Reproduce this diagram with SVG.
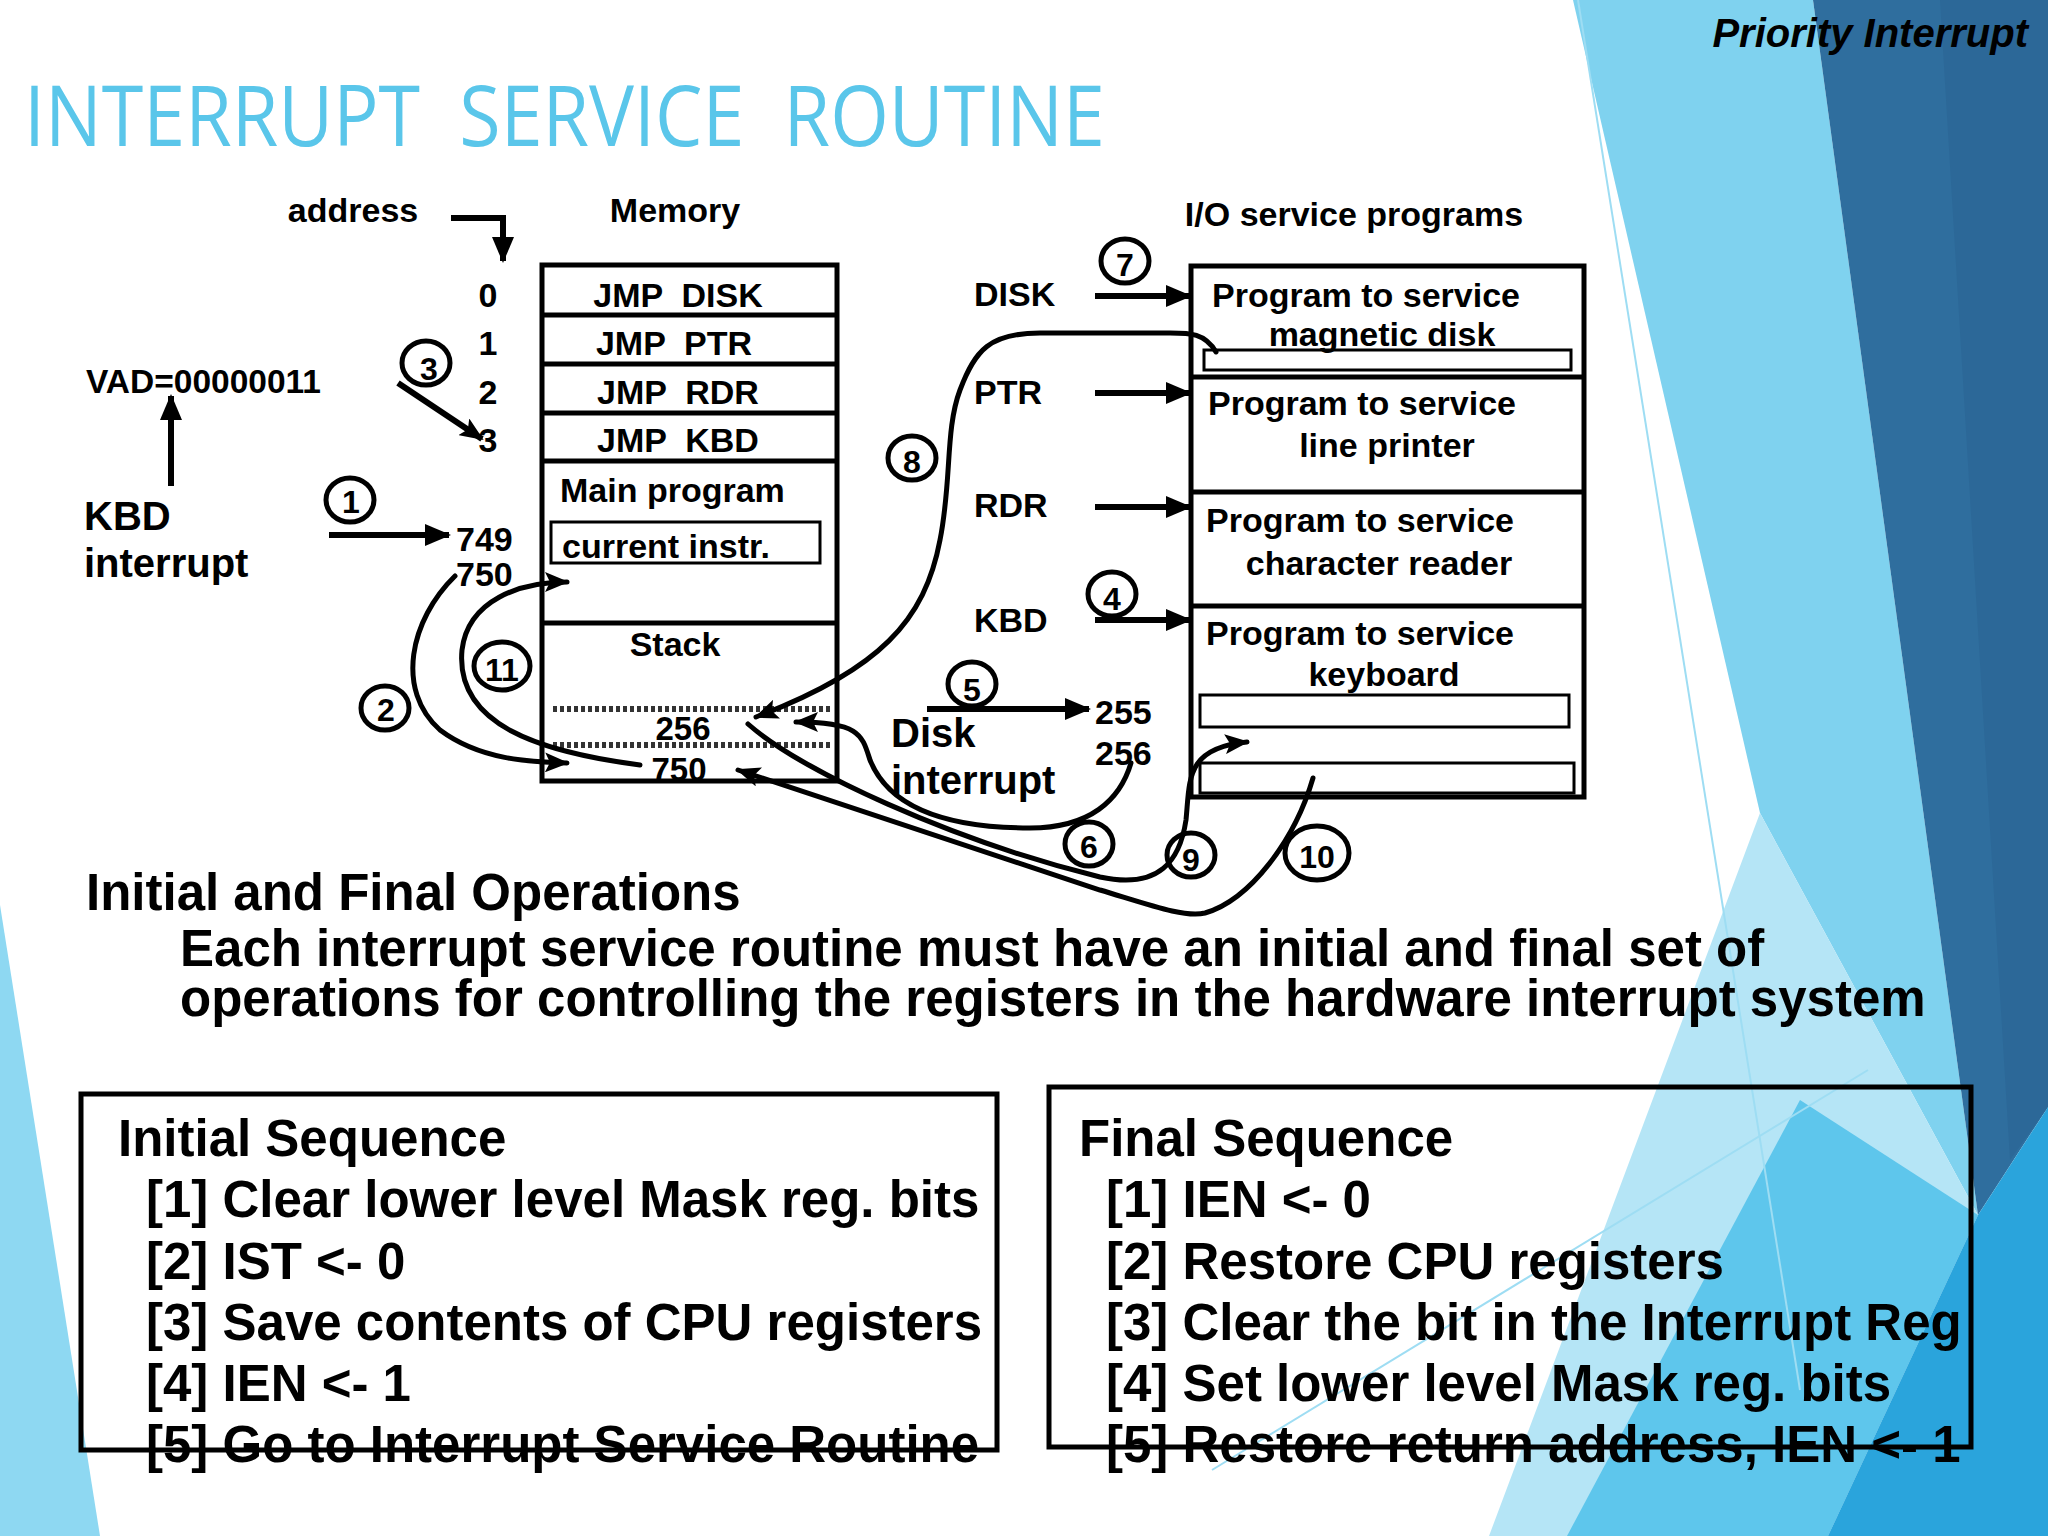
<svg xmlns="http://www.w3.org/2000/svg" width="2048" height="1536" viewBox="0 0 2048 1536">
<defs>
<style>
.t{font-family:"Liberation Sans",Arial,sans-serif;font-weight:bold;fill:#000}
.s33{font-size:33px}
.s34{font-size:34px}
.s40{font-size:40px}
.s51{font-size:51px}
.c{text-anchor:middle}
.pre{white-space:pre}
.box{fill:none;stroke:#000;stroke-width:5}
.thin{fill:none;stroke:#000;stroke-width:3}
.ln{fill:none;stroke:#000;stroke-width:6}
.cv{fill:none;stroke:#000;stroke-width:5;stroke-linecap:round}
.cir{fill:none;stroke:#000;stroke-width:5}
.num{font-family:"Liberation Sans",Arial,sans-serif;font-weight:bold;font-size:32px;text-anchor:middle}
.hatch{fill:none;stroke:#333;stroke-width:6;stroke-dasharray:4 3}
</style>
<marker id="ah" markerUnits="userSpaceOnUse" markerWidth="26" markerHeight="22" refX="24" refY="11" orient="auto">
<path d="M0,0 L26,11 L0,22 Z" fill="#000"/>
</marker>
<marker id="ahs" markerUnits="userSpaceOnUse" markerWidth="24" markerHeight="20" refX="22" refY="10" orient="auto">
<path d="M0,0 L24,10 L0,20 L5,10 Z" fill="#000"/>
</marker>
</defs>
<rect width="2048" height="1536" fill="#fff"/>
<g id="background">
<polygon points="0,905 100,1536 0,1536" fill="#8ED8F2"/>
<polygon points="1573,0 1813,0 1978,1215 1760,813" fill="#7FD2EF"/>
<polygon points="1760,813 1978,1215 1828,1536 1489,1536" fill="#B5E5F6"/>
<polygon points="1800,1100 1978,1215 1828,1536 1567,1536" fill="#5EC6EC"/>
<polygon points="1813,0 2048,0 2048,1107 1978,1215" fill="#2F6E9E"/>
<polygon points="1940,0 2048,0 2048,1107 2010,1160" fill="#2C6898"/>
<polygon points="1978,1215 2048,1107 2048,1536 1828,1536" fill="#2AA4DC"/>
<line x1="1578" y1="0" x2="1800" y2="1390" stroke="#9EDDF3" stroke-width="2"/>
<line x1="1212" y1="1470" x2="1868" y2="1070" stroke="#9EDDF3" stroke-width="2"/>
</g>
<text x="24" y="146" font-family="'Open Sans','DejaVu Sans',sans-serif" font-size="84" fill="#5AC6EA" textLength="1081" lengthAdjust="spacingAndGlyphs" class="pre">INTERRUPT  SERVICE  ROUTINE</text>
<text x="2028" y="47" class="t" font-size="40" font-style="italic" text-anchor="end">Priority Interrupt</text>

<g id="memory">
<rect x="542" y="265" width="295" height="516" class="box"/>
<line x1="542" y1="315" x2="837" y2="315" class="box"/>
<line x1="542" y1="364" x2="837" y2="364" class="box"/>
<line x1="542" y1="413" x2="837" y2="413" class="box"/>
<line x1="542" y1="461" x2="837" y2="461" class="box"/>
<line x1="542" y1="623" x2="837" y2="623" class="box"/>
<rect x="551" y="522" width="269" height="41" class="thin"/>
<line x1="553" y1="709" x2="831" y2="709" class="hatch"/>
<line x1="553" y1="745" x2="831" y2="745" class="hatch"/>
<text x="678" y="307" class="t s34 c pre">JMP  DISK</text>
<text x="674" y="355" class="t s34 c pre">JMP  PTR</text>
<text x="678" y="404" class="t s34 c pre">JMP  RDR</text>
<text x="678" y="452" class="t s34 c pre">JMP  KBD</text>
<text x="560" y="502" class="t s34">Main program</text>
<text x="562" y="558" class="t s34">current instr.</text>
<text x="675" y="656" class="t s34 c">Stack</text>
<text x="683" y="740" class="t s33 c">256</text>
<text x="679" y="781" class="t s33 c">750</text>
</g>
<g id="labels-left">
<text x="353" y="222" class="t s34 c">address</text>
<text x="675" y="222" class="t s34 c">Memory</text>
<text x="488" y="307" class="t s34 c">0</text>
<text x="488" y="355" class="t s34 c">1</text>
<text x="488" y="404" class="t s34 c">2</text>
<text x="488" y="452" class="t s34 c">3</text>
<text x="86" y="393" class="t s34" textLength="235" lengthAdjust="spacingAndGlyphs">VAD=00000011</text>
<text x="84" y="530" class="t s40">KBD</text>
<text x="84" y="577" class="t s40">interrupt</text>
<text x="456" y="551" class="t s34">749</text>
<text x="456" y="586" class="t s34">750</text>
</g>
<g id="io-programs">
<rect x="1191" y="266" width="393" height="531" class="box"/>
<line x1="1191" y1="377" x2="1584" y2="377" class="box"/>
<line x1="1191" y1="492" x2="1584" y2="492" class="box"/>
<line x1="1191" y1="606" x2="1584" y2="606" class="box"/>
<rect x="1204" y="350" width="367" height="20" class="thin"/>
<rect x="1200" y="695" width="369" height="32" class="thin"/>
<rect x="1200" y="763" width="374" height="30" class="thin"/>
<text x="1354" y="226" class="t s34 c">I/O service programs</text>
<text x="1366" y="307" class="t s34 c">Program to service</text>
<text x="1382" y="346" class="t s34 c">magnetic disk</text>
<text x="1362" y="415" class="t s34 c">Program to service</text>
<text x="1387" y="457" class="t s34 c">line printer</text>
<text x="1360" y="532" class="t s34 c">Program to service</text>
<text x="1379" y="575" class="t s34 c">character reader</text>
<text x="1360" y="645" class="t s34 c">Program to service</text>
<text x="1384" y="686" class="t s34 c">keyboard</text>
</g>
<g id="labels-right">
<text x="974" y="306" class="t s34">DISK</text>
<text x="974" y="404" class="t s34">PTR</text>
<text x="974" y="517" class="t s34">RDR</text>
<text x="974" y="632" class="t s34">KBD</text>
<text x="1095" y="724" class="t s34">255</text>
<text x="1095" y="765" class="t s34">256</text>
<text x="891" y="747" class="t s40">Disk</text>
<text x="891" y="794" class="t s40">interrupt</text>
</g>
<g id="step-markers">
<ellipse cx="350" cy="500" rx="24" ry="22" class="cir"/><text x="351" y="513" class="num">1</text>
<ellipse cx="385" cy="708" rx="24" ry="22" class="cir"/><text x="386" y="721" class="num">2</text>
<ellipse cx="426" cy="363" rx="24" ry="22" class="cir"/><text x="429" y="380" class="num">3</text>
<ellipse cx="1112" cy="594" rx="24" ry="22" class="cir"/><text x="1112" y="610" class="num">4</text>
<ellipse cx="972" cy="684" rx="24" ry="22" class="cir"/><text x="972" y="701" class="num">5</text>
<ellipse cx="1089" cy="844" rx="24" ry="22" class="cir"/><text x="1089" y="858" class="num">6</text>
<ellipse cx="1125" cy="261" rx="24" ry="22" class="cir"/><text x="1125" y="276" class="num">7</text>
<ellipse cx="912" cy="458" rx="24" ry="22" class="cir"/><text x="912" y="473" class="num">8</text>
<ellipse cx="1191" cy="855" rx="24" ry="22" class="cir"/><text x="1191" y="871" class="num">9</text>
<ellipse cx="1317" cy="853" rx="32" ry="27" class="cir"/><text x="1317" y="868" class="num">10</text>
<ellipse cx="502" cy="666" rx="28" ry="24" class="cir"/><text x="502" y="681" class="num">11</text>
</g>
<g id="connectors">
<polyline points="451,218 503,218 503,261" class="ln" marker-end="url(#ah)"/>
<line x1="171" y1="486" x2="171" y2="396" class="ln" stroke-width="5" marker-end="url(#ah)"/>
<line x1="398" y1="383" x2="482" y2="439" class="ln" stroke-width="3" marker-end="url(#ahs)"/>
<line x1="329" y1="535" x2="449" y2="535" class="ln" marker-end="url(#ah)"/>
<line x1="1095" y1="296" x2="1190" y2="296" class="ln" marker-end="url(#ah)"/>
<line x1="1095" y1="393" x2="1190" y2="393" class="ln" marker-end="url(#ah)"/>
<line x1="1095" y1="507" x2="1190" y2="507" class="ln" marker-end="url(#ah)"/>
<line x1="1095" y1="620" x2="1190" y2="620" class="ln" marker-end="url(#ah)"/>
<line x1="927" y1="709" x2="1089" y2="709" class="ln" marker-end="url(#ah)"/>
<path d="M455,576 C410,620 395,690 440,730 C480,760 530,762 567,763" class="cv" marker-end="url(#ahs)"/>
<path d="M640,765 C540,752 455,725 462,650 C468,600 520,582 567,582" class="cv" marker-end="url(#ahs)"/>
<path d="M1216,352 C1205,333 1190,333 1170,333 L1040,333 C990,333 975,350 960,390 C945,430 952,480 940,540 C925,620 880,670 756,717" class="cv" marker-end="url(#ahs)"/>
<path d="M1131,763 C1120,800 1090,828 1030,828 C950,828 890,810 870,760 C862,735 860,722 796,722" class="cv" marker-end="url(#ahs)"/>
<path d="M748,724 C800,770 950,840 1100,877 C1160,890 1180,860 1186,820 C1190,780 1185,748 1247,742" class="cv" marker-end="url(#ahs)"/>
<path d="M1313,778 C1295,840 1250,900 1205,913 C1185,918 1150,905 1100,890 L738,770" class="cv" marker-end="url(#ahs)"/>
</g>
<g id="operations-text">
<text x="86" y="910" class="t s51">Initial and Final Operations</text>
<text class="t s51"><tspan x="180" y="966">Each interrupt service routine must have an initial and final set of</tspan><tspan x="180" y="1016">operations for controlling the registers in the hardware interrupt system</tspan></text>
</g>
<g id="initial-sequence">
<text x="118" y="1156" class="t s51">Initial Sequence</text>
<text x="146" y="1217" class="t s51">[1] Clear lower level Mask reg. bits</text>
<text x="146" y="1279" class="t s51">[2] IST &lt;- 0</text>
<text x="146" y="1340" class="t s51">[3] Save contents of CPU registers</text>
<text x="146" y="1401" class="t s51">[4] IEN &lt;- 1</text>
<text x="146" y="1462" class="t s51">[5] Go to Interrupt Service Routine</text>
<rect x="81" y="1094" width="916" height="356" class="box"/>
</g>
<g id="final-sequence">
<text x="1079" y="1156" class="t s51">Final Sequence</text>
<text x="1106" y="1217" class="t s51">[1] IEN &lt;- 0</text>
<text x="1106" y="1279" class="t s51">[2] Restore CPU registers</text>
<text x="1106" y="1340" class="t s51">[3] Clear the bit in the Interrupt Reg</text>
<text x="1106" y="1401" class="t s51">[4] Set lower level Mask reg. bits</text>
<text x="1106" y="1462" class="t s51">[5] Restore return address, IEN &lt;- 1</text>
<rect x="1049" y="1087" width="922" height="360" class="box"/>
</g>
</svg>
